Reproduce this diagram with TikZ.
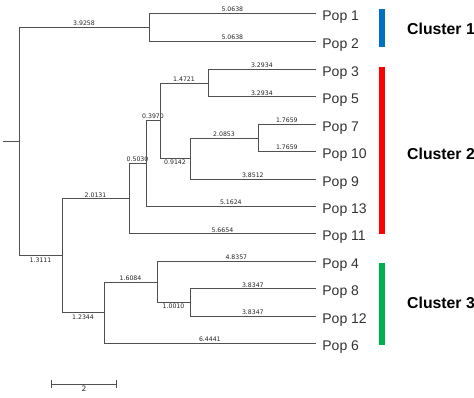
\documentclass[tikz,border=0pt]{standalone}
\usepackage{fontspec}
\setmainfont{Liberation Sans}
\newfontfamily\brfont{DejaVu Sans}
\definecolor{linegray}{HTML}{505050}
\definecolor{cblue}{HTML}{0070C0}
\definecolor{cred}{HTML}{FF0000}
\definecolor{cgreen}{HTML}{00B050}
\begin{document}
\begin{tikzpicture}[x=1pt,y=-1pt,
  branch/.style={draw=linegray,line width=0.9pt},
  blab/.style={font=\brfont\fontsize{6.2}{7}\selectfont,text=black!85,inner sep=1.2pt},
  sblab/.style={font=\brfont\fontsize{7.5}{8}\selectfont,text=black!85,inner sep=1pt},
  leaf/.style={anchor=west,inner xsep=6.5pt,inner ysep=0pt,text height=14pt,text depth=0pt,
    font=\fontsize{14}{16}\selectfont,text=black!80},
  clbar/.style={minimum width=6pt,inner sep=0pt,draw=none},
  cltext/.style={anchor=west,inner sep=0pt,font=\bfseries\fontsize{15.8}{18}\selectfont},
]
\useasboundingbox (0,0) rectangle (474,397);
\clip (0,0) rectangle (474,397);
\fill[white] (0,0) rectangle (474,397);

% leaves
\node[leaf] (p1)  at (315.7,13.7)  {Pop 1};
\node[leaf] (p2)  at (315.7,41.4)  {Pop 2};
\node[leaf] (p3)  at (315.7,69.1)  {Pop 3};
\node[leaf] (p5)  at (315.7,96.8)  {Pop 5};
\node[leaf] (p7)  at (315.7,124.2) {Pop 7};
\node[leaf] (p10) at (315.7,151.7) {Pop 10};
\node[leaf] (p9)  at (315.7,179.1) {Pop 9};
\node[leaf] (p13) at (315.7,206.5) {Pop 13};
\node[leaf] (p11) at (315.7,233.9) {Pop 11};
\node[leaf] (p4)  at (315.7,261.4) {Pop 4};
\node[leaf] (p8)  at (315.7,288.8) {Pop 8};
\node[leaf] (p12) at (315.7,316.2) {Pop 12};
\node[leaf] (p6)  at (315.7,343.7) {Pop 6};

% internal nodes
\coordinate (n1) at (149,27.55);
\coordinate (nA) at (208,82.95);
\coordinate (nC) at (258,137.95);
\coordinate (nD) at (190,158.5);
\coordinate (nB) at (160,120.7);
\coordinate (nE) at (146,163.6);
\coordinate (nF) at (129,198.75);
\coordinate (nJ) at (190,302.5);
\coordinate (nI) at (157,281.95);
\coordinate (nH) at (104,312.8);
\coordinate (nG) at (62,255.8);
\coordinate (root) at (19,141.7);
\coordinate (stem) at (3,141.7);

% branches
\draw[branch] (stem) -- (root);
\draw[branch] (root) |- node[blab,pos=0.75,above]{3.9258} (n1);
\draw[branch] (root) |- node[blab,pos=0.75,below]{1.3111} (nG);
\draw[branch] (n1) |- node[blab,pos=0.75,above]{5.0638} (p1.west);
\draw[branch] (n1) |- node[blab,pos=0.75,above]{5.0638} (p2.west);
\draw[branch] (nG) |- node[blab,pos=0.75,above]{2.0131} (nF);
\draw[branch] (nG) |- node[blab,pos=0.75,below]{1.2344} (nH);
\draw[branch] (nF) |- node[blab,pos=0.75,above]{0.5030} (nE);
\draw[branch] (nF) |- node[blab,pos=0.75,above]{5.6654} (p11.west);
\draw[branch] (nE) |- node[blab,pos=0.75,above]{0.3970} (nB);
\draw[branch] (nE) |- node[blab,pos=0.75,above]{5.1624} (p13.west);
\draw[branch] (nB) |- node[blab,pos=0.75,above]{1.4721} (nA);
\draw[branch] (nB) |- node[blab,pos=0.75,below]{0.9142} (nD);
\draw[branch] (nA) |- node[blab,pos=0.75,above]{3.2934} (p3.west);
\draw[branch] (nA) |- node[blab,pos=0.75,above]{3.2934} (p5.west);
\draw[branch] (nD) |- node[blab,pos=0.75,above]{2.0853} (nC);
\draw[branch] (nD) |- node[blab,pos=0.75,above]{3.8512} (p9.west);
\draw[branch] (nC) |- node[blab,pos=0.75,above]{1.7659} (p7.west);
\draw[branch] (nC) |- node[blab,pos=0.75,above]{1.7659} (p10.west);
\draw[branch] (nH) |- node[blab,pos=0.75,above]{1.6084} (nI);
\draw[branch] (nH) |- node[blab,pos=0.75,above]{6.4441} (p6.west);
\draw[branch] (nI) |- node[blab,pos=0.75,above]{4.8357} (p4.west);
\draw[branch] (nI) |- node[blab,pos=0.75,below]{1.0010} (nJ);
\draw[branch] (nJ) |- node[blab,pos=0.75,above]{3.8347} (p8.west);
\draw[branch] (nJ) |- node[blab,pos=0.75,above]{3.8347} (p12.west);

% scale bar
\coordinate (sbL) at (51,384);
\coordinate (sbR) at (117,384);
\draw[branch,|-|] (sbL) -- node[sblab,below=0pt]{2} (sbR);

% cluster bars
\node[clbar,fill=cblue,minimum height=38.3pt] (b1) at (382.3,28.2) {};
\node[clbar,fill=cred,minimum height=167pt] (b2) at (382.3,150.5) {};
\node[clbar,fill=cgreen,minimum height=82pt] (b3) at (382.3,304) {};
\node[cltext] (c1) at (407,28.7) {Cluster 1};
\node[cltext] (c2) at (407,153.5) {Cluster 2};
\node[cltext] (c3) at (407,303) {Cluster 3};
\end{tikzpicture}
\end{document}
